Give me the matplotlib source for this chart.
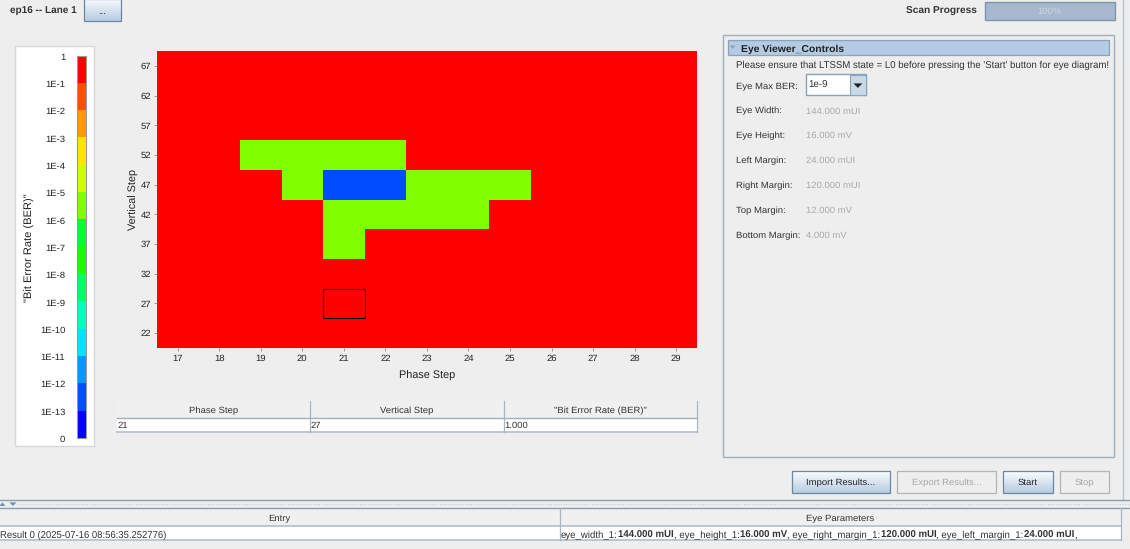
import numpy as np
import matplotlib
matplotlib.use("Agg")
import matplotlib.pyplot as plt
from matplotlib.colors import ListedColormap, BoundaryNorm
from matplotlib.patches import Rectangle, Polygon
from matplotlib.transforms import ScaledTranslation

plt.rcParams['font.family'] = ['Liberation Sans', 'DejaVu Sans']
plt.rcParams['text.hinting'] = 'none'
plt.rcParams['text.hinting_factor'] = 8

W, H = 1130, 549

# ---- data ----
phase_steps = [17, 18, 19, 20, 21, 22, 23, 24, 25, 26, 27, 28, 29]
vertical_steps = [22, 27, 32, 37, 42, 47, 52, 57, 62, 67]
# Colour band index of each cell (0 = BER 1 ... 13 = BER 0); rows follow vertical_steps
ber_band = [
    [0, 0, 0, 0, 0, 0, 0, 0, 0, 0, 0, 0, 0],
    [0, 0, 0, 0, 0, 0, 0, 0, 0, 0, 0, 0, 0],
    [0, 0, 0, 0, 0, 0, 0, 0, 0, 0, 0, 0, 0],
    [0, 0, 0, 0, 5, 0, 0, 0, 0, 0, 0, 0, 0],
    [0, 0, 0, 0, 5, 5, 5, 5, 0, 0, 0, 0, 0],
    [0, 0, 0, 5, 12, 12, 5, 5, 5, 0, 0, 0, 0],
    [0, 0, 5, 5, 5, 5, 0, 0, 0, 0, 0, 0, 0],
    [0, 0, 0, 0, 0, 0, 0, 0, 0, 0, 0, 0, 0],
    [0, 0, 0, 0, 0, 0, 0, 0, 0, 0, 0, 0, 0],
    [0, 0, 0, 0, 0, 0, 0, 0, 0, 0, 0, 0, 0],
]
band_colors = ['#ff0000', '#ff4c00', '#ff9900', '#ffe500', '#ccff00', '#7fff00', '#00ff33',
               '#19ff00', '#00ff66', '#00ffbf', '#00e5ff', '#0099ff', '#004cff', '#0000ff']
band_labels = ['1', '1E-1', '1E-2', '1E-3', '1E-4', '1E-5', '1E-6', '1E-7', '1E-8', '1E-9',
               '1E-10', '1E-11', '1E-12', '1E-13', '0']
selected_point = (21, 27)
table_headers = ['Phase Step', 'Vertical Step', '"Bit Error Rate (BER)"']
table_values = ['21', '27', '1.000']
control_rows = [('Eye Width:', '144.000 mUI'), ('Eye Height:', '16.000 mV'),
                ('Left Margin:', '24.000 mUI'), ('Right Margin:', '120.000 mUI'),
                ('Top Margin:', '12.000 mV'), ('Bottom Margin:', '4.000 mV')]

BG = '#eeeeee'
FS = 6.8
fig = plt.figure(figsize=(W / 100, H / 100), dpi=100, facecolor=BG)

# pixel overlay axes for window chrome
SH = 0.6
ui = fig.add_axes([0, 0, 1, 1])
ui.set_xlim(SH, W + SH); ui.set_ylim(H + SH, SH); ui.axis('off')


def box(x, y, w, h, fc='none', ec='none', lw=1.0, z=1):
    ui.add_patch(Rectangle((x, y), w, h, fc=fc, ec=ec, lw=lw, zorder=z))


def txt(x, y, s, size=FS, color='#333333', ha='left', weight='normal', rot=0):
    dy = 2.0 if rot == 0 else 0
    return ui.text(x, y + dy, s, fontsize=size, color=color, ha=ha, va='center',
                   fontweight=weight, rotation=rot, zorder=5)


def gbutton(x, y, w, h, label, enabled=True, size=FS):
    if enabled:
        grad = np.linspace(0, 1, 32).reshape(-1, 1)
        c0 = np.array([0.98, 0.99, 1.0]); c1 = np.array([0.72, 0.80, 0.88])
        img = (c0[None, None, :] * (1 - grad[..., None]) + c1[None, None, :] * grad[..., None])
        ui.imshow(img, extent=(x, x + w, y + h, y), aspect='auto', zorder=2)
        box(x, y, w, h, ec='#6b87a3', lw=0.9, z=3)
        col = '#222222'
    else:
        box(x, y, w, h, ec='#b5b5b5', lw=0.9, z=3)
        col = '#a6a6a6'
    txt(x + w / 2, y + h / 2 - 1, label, size, col, ha='center')


# header
txt(10.6, 10, 'ep16 -- Lane 1', 7.2, '#333333', weight='bold')
gbutton(84.5, 0, 37, 22, '...')
txt(977.6, 10, 'Scan Progress', 7.3, '#333333', ha='right', weight='bold')
box(985.5, 2.5, 130, 18, fc='#a5b8cd', ec='#7e95ae', lw=1)
txt(1050, 10, '100%', FS, '#ccd6e0', ha='center')

# window edge right of the panels
ui.plot([1123.5, 1123.5], [0, 500], color='#b9c4cf', lw=1, zorder=2)

# colour bar panel
box(15.5, 46.5, 79, 400.5, fc='white', ec='#d8d8d8', lw=1)
n = len(band_colors)
cbar_ax = fig.add_axes([76.5 / W, 1 - 438 / H, 9 / W, 382.5 / H])
cbar_ax.pcolormesh([0, 1], np.arange(n + 1), np.arange(n)[::-1].reshape(-1, 1),
                   cmap=ListedColormap(band_colors),
                   norm=BoundaryNorm(np.arange(n + 1) - 0.5, n))
cbar_ax.set_xticks([]); cbar_ax.set_yticks(np.arange(n + 1))
cbar_ax.set_yticklabels(band_labels[::-1], fontsize=FS, color='#222222')
cbar_ax.tick_params(axis='y', length=0, pad=8)
for lab in cbar_ax.get_yticklabels():
    lab.set_transform(lab.get_transform() + ScaledTranslation(0, -0.8 / 100, fig.dpi_scale_trans))
for s in cbar_ax.spines.values():
    s.set_color('#999999'); s.set_linewidth(0.8)
txt(30, 248, '"Bit Error Rate (BER)"', 8.0, '#222222', ha='center', rot=90)

# heat map
ax = fig.add_axes([156.9 / W, 1 - 348 / H, 540 / W, 297 / H])
xe = np.append(np.array(phase_steps) - 0.5, phase_steps[-1] + 0.5)
ve = np.array(vertical_steps, dtype=float)
ye = np.append(ve - 2.5, ve[-1] + 2.5)
ax.pcolormesh(xe, ye, np.array(ber_band), cmap=ListedColormap(band_colors),
              norm=BoundaryNorm(np.arange(n + 1) - 0.5, n))
ax.add_patch(Rectangle((selected_point[0] - 0.5, selected_point[1] - 2.5), 1, 5,
                       fc='none', ec='black', lw=0.8, zorder=5))
ax.set_xticks(phase_steps); ax.set_yticks(vertical_steps)
ax.tick_params(labelsize=FS, labelcolor='#222222', length=2, width=0.6, color='#888888')
ax.tick_params(axis='x', pad=2.7)
ax.tick_params(axis='y', pad=2)
ax.set_xlabel('Phase Step', fontsize=7.85, color='#222222', labelpad=5.9)
ax.set_ylabel('Vertical Step', fontsize=7.85, color='#222222', labelpad=1.2)
for s in ax.spines.values():
    s.set_visible(False)

# readout table
tx = [117.5, 310.5, 504.5, 697.5]
box(tx[0], 401.5, tx[3] - tx[0], 17, fc='#f0f0f0', ec='none')
box(tx[0], 418.5, tx[3] - tx[0], 14.5, fc='white', ec='none')
ui.plot([tx[0], tx[3]], [418.5, 418.5], color='#9fb0c0', lw=1, zorder=3)
ui.plot([tx[0], tx[3]], [433, 433], color='#b4bfca', lw=1.2, zorder=3)
for i in range(3):
    ui.plot([tx[i + 1]] * 2, [401.5, 433], color='#a9b6c3', lw=0.9, zorder=3)
    txt((tx[i] + tx[i + 1]) / 2, 409.5, table_headers[i], FS, '#333333', ha='center')
    txt(tx[i] + 0.8, 424.5, table_values[i], FS, '#333333')

# controls panel
box(723.5, 35.5, 391, 422, ec='#9fb0c0', lw=1)
box(728.5, 40.5, 381, 15, fc='#b3cbe3', ec='#8aa3bc', lw=0.9, z=2)
ui.add_patch(Polygon([[730.5, 46], [736, 46], [733.2, 49.5]], fc='#8ea0b2', ec='none', zorder=3))
txt(741.5, 47.5, 'Eye Viewer_Controls', 7.5, '#222222', weight='bold')
txt(736.5, 64, "Please ensure that LTSSM state = L0 before pressing the 'Start' button for eye diagram!", 6.95)
txt(736.5, 85, 'Eye Max BER:', 6.8)
box(806.5, 75, 60, 21, fc='white', ec='#8aa3bc', lw=1, z=2)
txt(809, 84, '1e-9', 7.0)
box(850.5, 75.5, 16, 20.5, fc='#c9d8e6', ec='#8aa3bc', lw=0.8, z=3)
ui.add_patch(Polygon([[854, 84], [863, 84], [858.5, 88.5]], fc='#222222', ec='none', zorder=4))
for i, (lab, val) in enumerate(control_rows):
    y = 109.7 + i * 24.85
    txt(736.5, y, lab, 6.8)
    txt(806.6, y, val, 6.8, '#a8a8a8')

# action buttons
gbutton(792.5, 471.5, 98, 22, 'Import Results...')
gbutton(897.5, 471.5, 99, 22, 'Export Results...', enabled=False)
gbutton(1003.5, 471.5, 50, 22, 'Start')
gbutton(1060.5, 471.5, 49, 22, 'Stop', enabled=False)

# splitter
ui.plot([0, W + 2], [500.5, 500.5], color='#8a9db0', lw=1, zorder=3)
ui.plot([0, W + 2], [508.5, 508.5], color='#8a9db0', lw=1, zorder=3)
ui.plot([18, W + 2], [504.5, 504.5], color='#c4c4c4', lw=0.7, ls=':', zorder=3)
ui.add_patch(Polygon([[0, 506.5], [6, 506.5], [3, 503]], fc='#6f8bb0', ec='none', zorder=4))
ui.add_patch(Polygon([[10, 503], [17, 503], [13.5, 506.5]], fc='#6f8bb0', ec='none', zorder=4))

# results table
box(0, 509, 1122, 17, fc='#f0f0f0', ec='none')
box(0, 526.5, 1122, 14, fc='white', ec='none')
ui.plot([0, 1122], [526.5, 526.5], color='#b4bfca', lw=1.2, zorder=3)
ui.plot([0, 1122], [541, 541], color='#b4bfca', lw=1.2, zorder=3)
ui.plot([560.5, 560.5], [509, 541], color='#a9b6c3', lw=0.9, zorder=3)
ui.plot([1122, 1122], [509, 541], color='#a9b6c3', lw=0.9, zorder=3)
txt(280, 517.5, 'Entry', FS, ha='center')
txt(841, 517.5, 'Eye Parameters', FS, ha='center')
txt(0.6, 533.5, 'Result 0 (2025-07-16 08:56:35.252776)', 6.88)
# mixed weight parameter line
fig.canvas.draw()
r = fig.canvas.get_renderer()
parts = [('eye_width_1:', 'normal'), ('144.000 mUI', 'bold'), (', eye_height_1:', 'normal'),
         ('16.000 mV', 'bold'), (', eye_right_margin_1:', 'normal'), ('120.000 mUI', 'bold'),
         (', eye_left_margin_1:', 'normal'), ('24.000 mUI', 'bold'), (',', 'normal')]
cx = 561.5
for s, w in parts:
    t = txt(cx, 533.5, s, 6.98, '#333333', weight=w)
    cx += t.get_window_extent(r).width + 0.2

ui.set_xlim(SH, W + SH); ui.set_ylim(H + SH, SH)
fig.savefig('out.png', dpi=100, facecolor=BG)
